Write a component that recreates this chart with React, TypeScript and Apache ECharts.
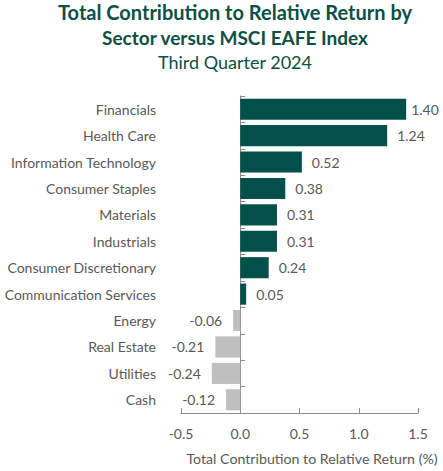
import React, { useEffect, useRef } from "react";
import * as echarts from "echarts";

const categories = [
  "Financials",
  "Health Care",
  "Information Technology",
  "Consumer Staples",
  "Materials",
  "Industrials",
  "Consumer Discretionary",
  "Communication Services",
  "Energy",
  "Real Estate",
  "Utilities",
  "Cash",
];
const values = [1.4, 1.24, 0.52, 0.38, 0.31, 0.31, 0.24, 0.05, -0.06, -0.21, -0.24, -0.12];
const titleLines = ["Total Contribution to Relative Return by", "Sector versus MSCI EAFE Index"];
const subtitle = "Third Quarter 2024";
const axisName = "Total Contribution to Relative Return (%)";

const GREEN = "#03504a";
const GRAY = "#bfbfbf";
const TEXT = "#595959";
const FONT = "Lato";

export default function App() {
  const ref = useRef<HTMLDivElement>(null);
  useEffect(() => {
    document.body.style.margin = "0";
    const chart = echarts.init(ref.current!, null, { renderer: "svg" });
    const data = values.map((v, i) => ({
      value: v,
      itemStyle: { color: v >= 0 ? GREEN : GRAY },
      label: {
        position: v >= 0 ? "right" : "left",
        distance: i === 0 ? 5 : v >= 0 ? 10 : 11,
      },
    }));
    chart.setOption({
      animation: false,
      textStyle: { fontFamily: FONT },
      grid: {
        left: 181,
        right: 25,
        top: 96,
        bottom: 58,
        containLabel: false,
        outerBoundsMode: "none",
      },
      xAxis: {
        type: "value",
        min: -0.5,
        max: 1.5,
        interval: 0.5,
        axisLine: { show: true, onZero: false, lineStyle: { color: "#8c8c8c" } },
        axisTick: { show: true, inside: true, length: 5, lineStyle: { color: "#8c8c8c" } },
        splitLine: { show: false },
        axisLabel: {
          margin: 13,
          fontSize: 14,
          color: TEXT,
          fontFamily: FONT,
          formatter: (v: number) => v.toFixed(1),
        },
      },
      yAxis: {
        type: "category",
        inverse: true,
        data: categories,
        axisLine: { show: true, onZero: true, lineStyle: { color: "#8c8c8c" } },
        axisTick: { show: true, inside: true, length: 5, lineStyle: { color: "#8c8c8c" } },
        axisLabel: { margin: 25, fontSize: 14, color: TEXT, fontFamily: FONT },
      },
      series: [
        {
          type: "bar",
          data,
          barCategoryGap: "20%",
          label: {
            show: true,
            fontSize: 14,
            color: TEXT,
            fontFamily: FONT,
            formatter: (p: any) => Number(p.value).toFixed(2),
          },
        },
      ],
      graphic: [
        {
          type: "text",
          x: 235,
          y: 12,
          style: {
            text: titleLines[0],
            fontSize: 20,
            fontWeight: "bold",
            fontFamily: FONT,
            fill: "#0b4f47",
            textAlign: "center",
            textVerticalAlign: "middle",
          },
        },
        {
          type: "text",
          x: 235,
          y: 37,
          style: {
            text: titleLines[1],
            fontSize: 19,
            fontWeight: "bold",
            fontFamily: FONT,
            fill: "#0b4f47",
            textAlign: "center",
            textVerticalAlign: "middle",
          },
        },
        {
          type: "text",
          x: 235,
          y: 62,
          style: {
            text: subtitle,
            fontSize: 18,
            fontFamily: FONT,
            fill: "#0b4f47",
            textAlign: "center",
            textVerticalAlign: "middle",
          },
        },
        {
          type: "text",
          x: 312,
          y: 458,
          style: {
            text: axisName,
            fontSize: 14.2,
            fontFamily: FONT,
            fill: TEXT,
            textAlign: "center",
            textVerticalAlign: "middle",
          },
        },
      ],
    });
    return () => chart.dispose();
  }, []);
  return <div ref={ref} style={{ width: 443, height: 471 }} />;
}
